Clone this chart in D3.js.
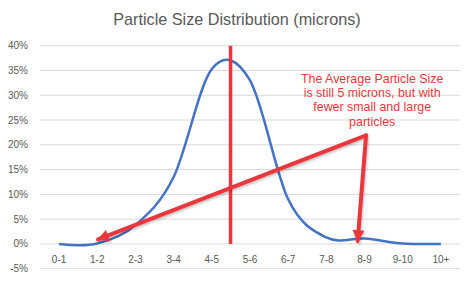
<!DOCTYPE html>
<html>
<head>
<meta charset="utf-8">
<script src="https://cdn.jsdelivr.net/npm/d3@7"></script>
<style>
  body { margin: 0; background: #fff; }
  svg { display: block; font-family: "Liberation Sans", Arial, sans-serif; }
</style>
</head>
<body>
<script>
// chart data
var categories = ["0-1", "1-2", "2-3", "3-4", "4-5", "5-6", "6-7", "7-8", "8-9", "9-10", "10+"];
var shares = [0, 0.001, 0.038, 0.135, 0.353, 0.33, 0.09, 0.013, 0.011, 0.001, 0];
var yTicks = [-0.05, 0, 0.05, 0.10, 0.15, 0.20, 0.25, 0.30, 0.35, 0.40];

// annotations, in data units (category index, share)
var avgLine = {x: 4.49, y0: 0, y1: 0.40};
var arrows = [
  {x1: 8.04, y1: 0.219, x2: 1.02, y2: 0.009},
  {x1: 8.04, y1: 0.219, x2: 7.82, y2: 0.006}
];
var noteLines = ["The Average Particle Size", "is still 5 microns, but with", "fewer small and large", "particles"];
var notePos = {x: 8.2, y: 0.325};

var W = 474, H = 281;
var red = "#e8383d";

var svg = d3.select("body").append("svg")
  .attr("width", W)
  .attr("height", H);

var x = d3.scaleBand().domain(categories).range([40, 460]).padding(0);
var y = d3.scaleLinear().domain([-0.05, 0.40]).range([268.7, 45.7]);
// continuous index scale for annotations
var xi = d3.scaleLinear().domain([0, categories.length - 1])
  .range([x(categories[0]) + x.bandwidth() / 2, x(categories[categories.length - 1]) + x.bandwidth() / 2]);

var defs = svg.append("defs");
defs.append("marker")
  .attr("id", "head")
  .attr("viewBox", "0 0 10 10")
  .attr("refX", 9).attr("refY", 5)
  .attr("markerWidth", 3.2).attr("markerHeight", 3)
  .attr("markerUnits", "strokeWidth")
  .attr("orient", "auto")
  .append("path")
  .attr("d", "M0,0L10,5L0,10z")
  .attr("fill", red);
var f = defs.append("filter").attr("id", "shadow").attr("x", "-10%").attr("y", "-10%").attr("width", "120%").attr("height", "130%");
f.append("feDropShadow").attr("dx", 1).attr("dy", 1.5).attr("stdDeviation", 0.8)
  .attr("flood-color", "#000").attr("flood-opacity", 0.25);

// title
svg.append("text")
  .attr("x", 237).attr("y", 25)
  .attr("text-anchor", "middle")
  .attr("font-size", 16.2)
  .attr("fill", "#595959")
  .text("Particle Size Distribution (microns)");

// gridlines + y labels
svg.append("g").selectAll("line").data(yTicks).join("line")
  .attr("x1", 40).attr("x2", 460)
  .attr("y1", function(d){ return y(d); })
  .attr("y2", function(d){ return y(d); })
  .attr("stroke", "#d9d9d9").attr("stroke-width", 1);

svg.append("g").selectAll("text").data(yTicks).join("text")
  .attr("x", 28)
  .attr("y", function(d){ return y(d) + 3.5; })
  .attr("text-anchor", "end")
  .attr("font-size", 10)
  .attr("fill", "#595959")
  .text(function(d){ return Math.round(d * 100) + "%"; });

// x labels
svg.append("g").selectAll("text").data(categories).join("text")
  .attr("x", function(d){ return x(d) + x.bandwidth() / 2; })
  .attr("y", 262.5)
  .attr("text-anchor", "middle")
  .attr("font-size", 10)
  .attr("fill", "#595959")
  .text(function(d){ return d; });

// distribution curve (smoothed like the spreadsheet line)
var line = d3.line()
  .x(function(d, i){ return x(categories[i]) + x.bandwidth() / 2; })
  .y(function(d){ return y(d); })
  .curve(d3.curveCatmullRom.alpha(0));

svg.append("path")
  .datum(shares)
  .attr("d", line)
  .attr("fill", "none")
  .attr("stroke", "#4472c4")
  .attr("stroke-width", 2.5);

// average line
svg.append("line")
  .attr("x1", xi(avgLine.x)).attr("x2", xi(avgLine.x))
  .attr("y1", y(avgLine.y0)).attr("y2", y(avgLine.y1))
  .attr("stroke", red).attr("stroke-width", 3.5);

// arrows
svg.append("g").attr("filter", "url(#shadow)")
  .selectAll("line").data(arrows).join("line")
  .attr("x1", function(d){ return xi(d.x1); })
  .attr("y1", function(d){ return y(d.y1); })
  .attr("x2", function(d){ return xi(d.x2); })
  .attr("y2", function(d){ return y(d.y2); })
  .attr("stroke", red).attr("stroke-width", 4)
  .attr("stroke-linecap", "round")
  .attr("marker-end", "url(#head)");

// note
svg.append("text")
  .attr("text-anchor", "middle")
  .attr("font-size", 12.4)
  .attr("fill", red)
  .selectAll("tspan").data(noteLines).join("tspan")
  .attr("x", xi(notePos.x))
  .attr("y", function(d, i){ return y(notePos.y) + i * 14.3; })
  .text(function(d){ return d; });
</script>
</body>
</html>
